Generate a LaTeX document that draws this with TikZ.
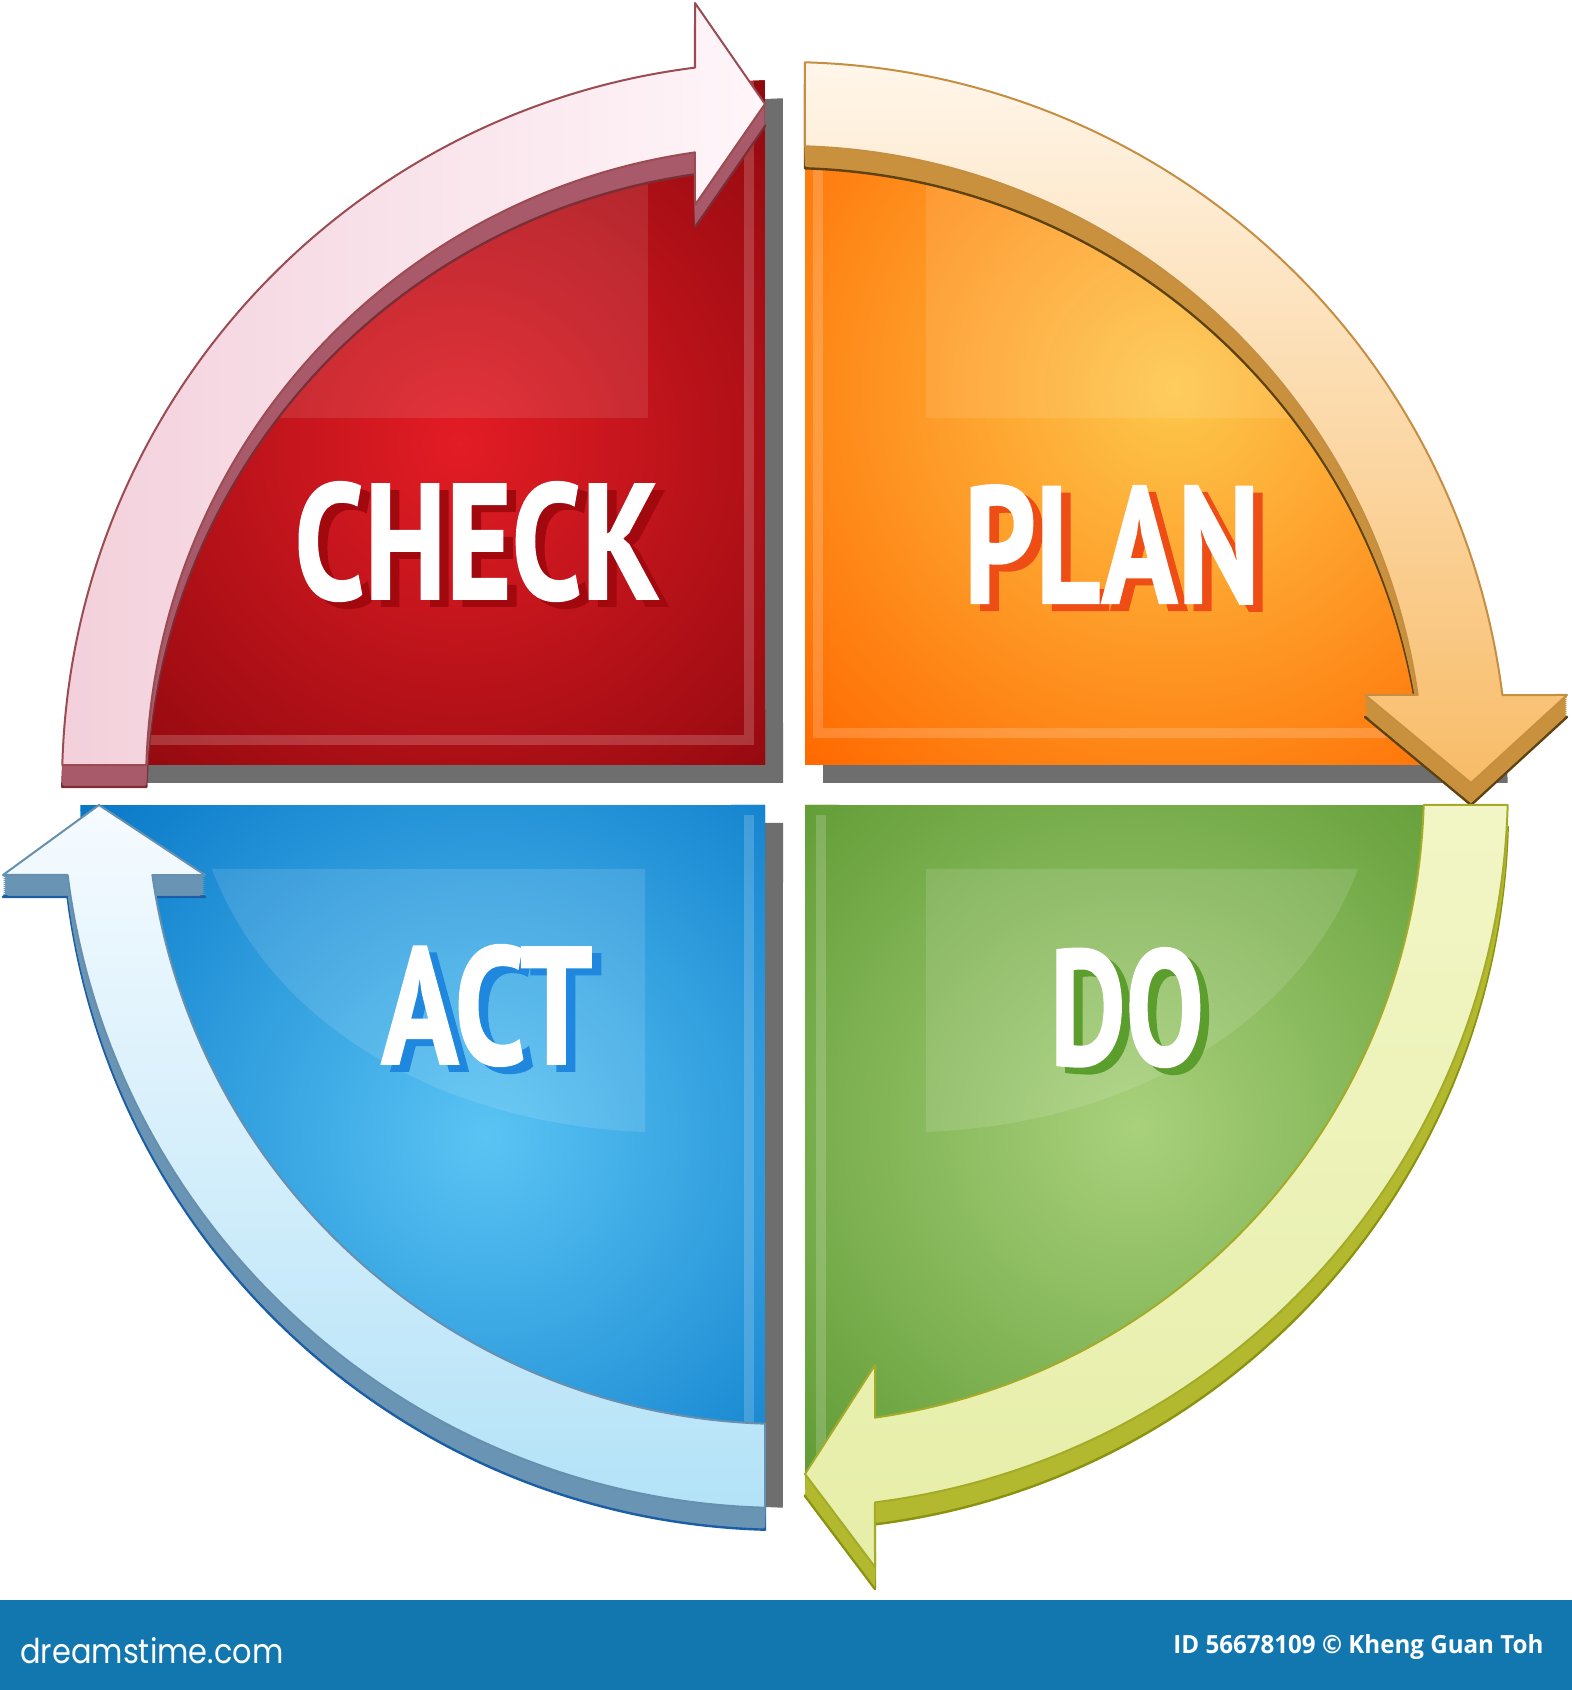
\documentclass[tikz,border=0pt]{standalone}
\usepackage{fontspec}
\usepackage{graphicx}
\newfontfamily\lblfont{PT Sans}[BoldFeatures={FakeBold=1.2}]
\newfontfamily\logofont{Poppins}
\newfontfamily\idfont{Open Sans}

\definecolor{barblue}{HTML}{1277AF}
\definecolor{panelshadow}{HTML}{6E6E6E}
\definecolor{chkOut}{HTML}{88070C}
\definecolor{chkIn}{HTML}{E31C25}
\definecolor{plnOut}{HTML}{FF6A00}
\definecolor{plnIn}{HTML}{FDC84C}
\definecolor{actOut}{HTML}{0878C8}
\definecolor{actIn}{HTML}{5AC4F4}
\definecolor{doOut}{HTML}{5A972F}
\definecolor{doIn}{HTML}{A9D17C}
% arrows
\definecolor{chkA1}{HTML}{F3D0DB}
\definecolor{chkA2}{HTML}{FFF6FA}
\definecolor{chkAl}{HTML}{9B4B52}
\definecolor{chkAx}{HTML}{A8596A}
\definecolor{chkAe}{HTML}{7A2E36}
\definecolor{plnA1}{HTML}{FFF6EA}
\definecolor{plnA2}{HTML}{F8BC68}
\definecolor{plnAl}{HTML}{C68E40}
\definecolor{plnAx}{HTML}{C9913E}
\definecolor{plnAe}{HTML}{5E4212}
\definecolor{doA1}{HTML}{E6EEA8}
\definecolor{doA2}{HTML}{F2F6C6}
\definecolor{doAl}{HTML}{A3AB28}
\definecolor{doAx}{HTML}{B3B92E}
\definecolor{doAe}{HTML}{8A9210}
\definecolor{actA1}{HTML}{B3E2F7}
\definecolor{actA2}{HTML}{F6FBFF}
\definecolor{actAl}{HTML}{6690AE}
\definecolor{actAx}{HTML}{6A94B3}
\definecolor{actAe}{HTML}{1B5EA6}
% label shadows
\definecolor{chkS}{HTML}{A1090F}
\definecolor{plnS}{HTML}{EE4E16}
\definecolor{actS}{HTML}{1F87DD}
\definecolor{doS}{HTML}{5C9E2E}

% #1 outline path, #2 outer colour, #3 inner colour, #4 shading centre, #5 extra commands inside clip
\newcommand{\pdcaPanel}[5]{%
  \begin{scope}[shift={(18,-18)}]\fill[panelshadow] #1;\end{scope}
  \fill[#2] #1;
  \begin{scope}
    \clip #1;
    \shade[inner color=#3,outer color=#2] #4 circle[radius=520];
    #5
  \end{scope}}

% #1 rotation, #2 tip, #3 face shading, #4 outline, #5 extrusion fill, #6 extrusion edge
\newcommand{\pdcaArrow}[6]{%
  \begin{scope}[shift={(0,-22)},rotate=#1]
    \filldraw[fill=#5,draw=#6,line width=1.2pt,line join=round] (178.415:723) arc[start angle=178.415,end angle=97.15,radius=723] -- (-90,782) -- #2 -- (-90,580) -- (98.10:639) arc[start angle=98.10,end angle=178.206,radius=639] -- cycle;
  \end{scope}
  \foreach \dz in {20,18,...,2}{%
    \begin{scope}[shift={(0,-\dz)},rotate=#1]
      \fill[#5] (178.415:723) arc[start angle=178.415,end angle=97.15,radius=723] -- (-90,782) -- #2 -- (-90,580) -- (98.10:639) arc[start angle=98.10,end angle=178.206,radius=639] -- cycle;
    \end{scope}}
  \begin{scope}[rotate=#1]
    \shade[#3] (178.415:723) arc[start angle=178.415,end angle=97.15,radius=723] -- (-90,782) -- #2 -- (-90,580) -- (98.10:639) arc[start angle=98.10,end angle=178.206,radius=639] -- cycle;
    \draw[#4,line width=1pt,line join=round] (178.415:723) arc[start angle=178.415,end angle=97.15,radius=723] -- (-90,782) -- #2 -- (-90,580) -- (98.10:639) arc[start angle=98.10,end angle=178.206,radius=639] -- cycle;
  \end{scope}}

% #1 name, #2 x, #3 y, #4 width, #5 height, #6 text, #7 shadow colour
\newcommand{\pdcaLabel}[7]{%
  \node[inner sep=0pt,text=white] (#1) at (#2,#3) {\resizebox{#4}{#5}{\lblfont\bfseries
    \rlap{\kern0.75pt\raisebox{-0.42pt}{\textcolor{#7}{#6}}}%
    #6}};}

\begin{document}
\begin{tikzpicture}[x=0.5pt,y=0.5pt]
\useasboundingbox (-785,785) rectangle (787,-905);
\fill[white] (-785,785) rectangle (787,-905);

% ---------- panels ----------
\pdcaPanel{(-20,20) -- (91.63:705) arc[start angle=91.63,end angle=178.37,radius=705] -- cycle}{chkOut}{chkIn}{(-326,341)}{%
  \fill[white,opacity=0.10] (-520,367) rectangle (-137,760);
  \draw[white,opacity=0.18,line width=5pt] (-700,45) -- (-36,45) -- (-36,720);}
\pdcaPanel{(20,20) -- (1.63:705) arc[start angle=1.63,end angle=88.37,radius=705] -- cycle}{plnOut}{plnIn}{(389,397)}{%
  \fill[white,opacity=0.10] (141,367) rectangle (510,760);
  \draw[white,opacity=0.18,line width=5pt] (700,52) -- (33,52) -- (33,720);}
\pdcaPanel{(-20,-20) -- (181.63:705) arc[start angle=181.63,end angle=268.37,radius=705] -- cycle}{actOut}{actIn}{(-300,-352)}{%
  \fill[white,opacity=0.12] (-573,-84) -- (-140,-84) -- (-140,-347) .. controls (-330,-340) and (-510,-250) .. (-573,-84) -- cycle;
  \draw[white,opacity=0.18,line width=5pt] (-36,-30) -- (-36,-720);}
\pdcaPanel{(20,-20) -- (-88.37:705) arc[start angle=-88.37,end angle=-1.63,radius=705] -- cycle}{doOut}{doIn}{(349,-342)}{%
  \fill[white,opacity=0.12] (573,-84) -- (141,-84) -- (141,-347) .. controls (330,-340) and (510,-250) .. (573,-84) -- cycle;
  \draw[white,opacity=0.18,line width=5pt] (36,-30) -- (36,-720);}

% ---------- labels ----------
\pdcaLabel{check}{-308}{240}{182.5pt}{58.5pt}{CHECK}{chkS}
\pdcaLabel{plan}{327}{237}{148pt}{59pt}{PLAN}{plnS}
\pdcaLabel{act}{-298}{-224}{105.5pt}{59.5pt}{ACT}{actS}
\pdcaLabel{do}{342}{-226}{77pt}{58.5pt}{DO}{doS}

% ---------- arrows ----------
\pdcaArrow{0}{(-20,681)}{left color=chkA1,right color=chkA2}{chkAl}{chkAx}{chkAe}
\pdcaArrow{-90}{(-2,686)}{top color=plnA1,bottom color=plnA2}{plnAl}{plnAx}{plnAe}
\pdcaArrow{90}{(-20,686)}{top color=actA2,bottom color=actA1}{actAl}{actAx}{actAe}
\pdcaArrow{180}{(-20,689)}{top color=doA2,bottom color=doA1}{doAl}{doAx}{doAe}

% ---------- bottom bar ----------
\fill[barblue] (-785,-815) rectangle (787,-905);
\node[anchor=base west,inner sep=0pt,text=white] (logo) at (-765,-878) {\resizebox{131.5pt}{13pt}{\logofont dreamstime.com}};
\node[anchor=base west,inner sep=0pt,text=white] (credit) at (388,-868) {\resizebox{185pt}{9.5pt}{\idfont\bfseries ID 56678109 © Kheng Guan Toh}};
\end{tikzpicture}
\end{document}
